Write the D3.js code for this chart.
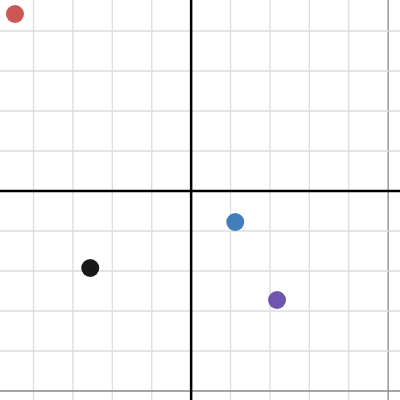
<!DOCTYPE html>
<html><head><meta charset="utf-8">
<script src="https://cdn.jsdelivr.net/npm/d3@7"></script>
<style>body{margin:0;background:#fff}svg{display:block}</style>
</head><body><svg id="c" width="400" height="400"></svg>
<script>
var xs = [-4.47, -2.56, 1.12, 2.18];
var ys = [4.425, -1.925, -0.775, -2.725];
var colors = ["#c74440", "#000000", "#2d70b3", "#6042a6"];
var gridX = d3.range(-4, 6), gridY = d3.range(-5, 5);

var svg = d3.select("#c");
var x = d3.scaleLinear().domain([-4.85, 5.3]).range([0, 400]);
var y = d3.scaleLinear().domain([4.775, -5.225]).range([0, 400]);

svg.selectAll(".gx").data(gridX).enter().append("line")
  .attr("x1", d => x(d)).attr("x2", d => x(d)).attr("y1", 0).attr("y2", 400)
  .attr("stroke", d => d === 0 ? "#000" : (d % 5 === 0 ? "#888" : "#ddd"))
  .attr("stroke-width", d => d === 0 ? 2.5 : 1.3);
svg.selectAll(".gy").data(gridY).enter().append("line")
  .attr("y1", d => y(d)).attr("y2", d => y(d)).attr("x1", 0).attr("x2", 400)
  .attr("stroke", d => d === 0 ? "#000" : (d % 5 === 0 ? "#888" : "#ddd"))
  .attr("stroke-width", d => d === 0 ? 2.5 : 1.3);
// keep axes on top
svg.selectAll("line").filter(d => d === 0).raise();

svg.selectAll("circle").data(xs).enter().append("circle")
  .attr("cx", d => x(d)).attr("cy", (d, i) => y(ys[i])).attr("r", 9)
  .attr("fill", (d, i) => colors[i]).attr("fill-opacity", 0.9);
</script></body></html>
